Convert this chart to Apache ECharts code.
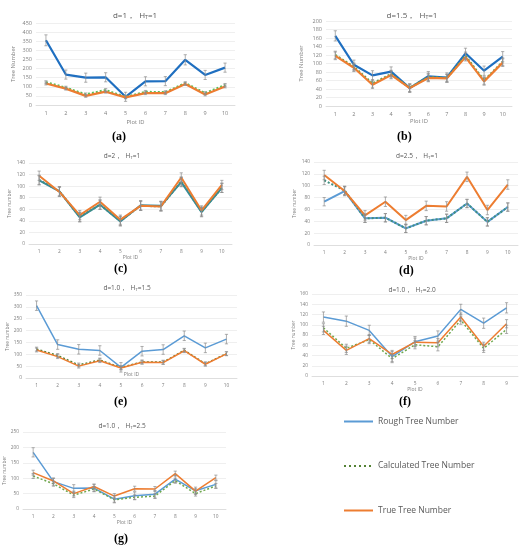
<!DOCTYPE html>
<html><head><meta charset="utf-8">
<script src="https://cdn.jsdelivr.net/npm/echarts@6/dist/echarts.min.js"></script>
<style>html,body{margin:0;padding:0;background:#fff}#c{width:523px;height:550px}</style>
</head><body><div id="c"></div>
<script>
const plotIds10 = ['1','2','3','4','5','6','7','8','9','10'];
const plotIds9 = ['1','2','3','4','5','6','7','8','9'];
const legendNames = ['Rough Tree Number','Calculated Tree Number','True Tree Number'];

// (a) d=1, HT=1
const roughA = [355,167,150,152,45,130,131,248,165,205];
const calcA  = [125,95,58,82,44,72,70,120,65,110];
const trueA  = [118,90,50,73,42,65,65,115,58,102];
const errRoughA = [30,25,25,25,25,25,25,28,25,25];
const errCalcA  = [8,8,8,8,8,8,8,8,8,8];
const errTrueA  = [8,8,8,8,8,8,8,8,8,8];
// (b) d=1.5, HT=1
const roughB = [165,97,72,81,42,70,67,124,83,116];
const calcB  = [120,92,53,75,43,68,66,118,60,104];
const trueB  = [118,90,50,73,42,66,65,115,58,102];
const errRoughB = [12,11,11,11,10,11,11,12,11,12];
const errCalcB  = [9,9,9,9,9,9,9,9,9,9];
const errTrueB  = [9,9,9,9,9,9,9,9,9,9];
// (c) d=2, HT=1
const roughC = [110,91,46,68,39,67,66,107,55,97];
const calcC  = [111,91,47,68,40,66,65,108,56,97];
const trueC  = [118,90,50,73,42,66,65,115,58,102];
const errRoughC = [8,8,8,8,8,8,8,8,8,8];
const errCalcC  = [8,8,8,8,8,8,8,8,8,8];
const errTrueC  = [8,8,8,8,8,8,8,8,8,8];
// (d) d=2.5, HT=1
const roughD = [73,91,45,46,28,41,45,70,39,64];
const calcD  = [109,92,45,46,28,41,45,70,39,64];
const trueD  = [118,91,50,73,42,66,65,115,59,102];
const errRoughD = [7,7,7,7,7,7,7,7,7,7];
const errCalcD  = [7,7,7,7,7,7,7,7,7,7];
const errTrueD  = [8,8,8,8,8,8,8,8,8,8];
// (e) d=1.0, HT=1.5
const roughE = [305,141,121,116,45,113,120,178,127,164];
const calcE  = [122,95,55,76,44,68,67,117,60,103];
const trueE  = [118,90,50,73,42,66,65,115,58,102];
const errRoughE = [20,20,20,20,20,20,20,20,20,20];
const errCalcE  = [8,8,8,8,8,8,8,8,8,8];
const errTrueE  = [8,8,8,8,8,8,8,8,8,8];
// (f) d=1.0, HT=2.0
const roughF = [115,107,89,38,67,78,130,103,133];
const calcF  = [94,54,71,34,61,57,109,54,91];
const trueF  = [89,50,73,42,66,65,115,58,102];
const errRoughF = [10,10,10,10,10,10,10,10,10];
const errCalcF  = [8,8,8,8,8,8,8,8,8];
const errTrueF  = [8,8,8,8,8,8,8,8,8];
// (g) d=1.0, HT=2.5
const roughG = [184,89,67,68,32,43,48,97,59,80];
const calcG  = [107,82,45,65,30,38,42,92,50,75];
const trueG  = [118,91,50,73,42,66,65,115,58,102];
const errRoughG = [15,12,12,12,12,12,12,12,12,12];
const errCalcG  = [8,8,8,8,8,8,8,8,8,8];
const errTrueG  = [8,8,8,8,8,8,8,8,8,8];

const panels = [
  {cats:plotIds10, rough:roughA, calc:calcA, tru:trueA, eR:errRoughA, eC:errCalcA, eT:errTrueA,
   max:450, step:50, grid:{left:36,top:23,width:199,height:82}, title:['d=1，  H','T','=1'], tx:130, ty:6, tfs:8,
   yname:'Tree Number', ygap:20, xgap:14, blue:'#1f6fc0', green:'#59c159', lw:2.2, lab:'(a)', lx:120, ly:138, big:true},
  {cats:plotIds10, rough:roughB, calc:calcB, tru:trueB, eR:errRoughB, eC:errCalcB, eT:errTrueB,
   max:200, step:20, grid:{left:326,top:21,width:186,height:85}, title:['d=1.5，  H','T','=1'], tx:407, ty:6, tfs:8,
   yname:'Tree Number', ygap:22, xgap:12, blue:'#1f6fc0', green:'#59a84a', lw:2.2, lab:'(b)', lx:405, ly:138, big:true},
  {cats:plotIds10, rough:roughC, calc:calcC, tru:trueC, eR:errRoughC, eC:errCalcC, eT:errTrueC,
   max:140, step:20, grid:{left:29,top:163,width:203,height:81}, title:['d=2，  H','T','=1'], tx:117, ty:148, tfs:6.5,
   yname:'Tree number', ygap:17, xgap:10, blue:'#3a8a9e', green:'#3f8f7f', lw:2, lab:'(c)', lx:122, ly:270},
  {cats:plotIds10, rough:roughD, calc:calcD, tru:trueD, eR:errRoughD, eC:errCalcD, eT:errTrueD,
   max:140, step:20, grid:{left:314,top:162,width:204,height:83}, title:['d=2.5，  H','T','=1'], tx:412, ty:148, tfs:6.5,
   yname:'Tree number', ygap:17, xgap:10, blue:'#5b9bd5', green:'#3f8f7f', lw:2, lab:'(d)', lx:407, ly:272},
  {cats:plotIds10, rough:roughE, calc:calcE, tru:trueE, eR:errRoughE, eC:errCalcE, eT:errTrueE,
   max:350, step:50, grid:{left:26,top:295,width:211,height:83}, title:['d=1.0，  H','T','=1.5'], tx:122, ty:280, tfs:6.5,
   yname:'Tree number', ygap:15, xgap:-6, blue:'#5b9bd5', green:'#548235', lw:1.5, lab:'(e)', lx:122, ly:403},
  {cats:plotIds9, rough:roughF, calc:calcF, tru:trueF, eR:errRoughF, eC:errCalcF, eT:errTrueF,
   max:160, step:20, grid:{left:312,top:294,width:206,height:82}, title:['d=1.0，  H','T','=2.0'], tx:407, ty:282, tfs:6.5,
   yname:'Tree number', ygap:12, xgap:10, blue:'#5b9bd5', green:'#6fa84f', lw:1.5, lab:'(f)', lx:407, ly:403},
  {cats:plotIds10, rough:roughG, calc:calcG, tru:trueG, eR:errRoughG, eC:errCalcG, eT:errTrueG,
   max:250, step:50, grid:{left:23,top:432,width:203,height:77}, title:['d=1.0，  H','T','=2.5'], tx:117, ty:418, tfs:6.5,
   yname:'Tree number', ygap:16, xgap:9, blue:'#5b9bd5', green:'#6fa84f', lw:1.5, lab:'(g)', lx:122, ly:540}
];

function errRender(params, api) {
  const x = api.value(0), v = api.value(1), e = api.value(2);
  const t = api.coord([x, v + e]), b = api.coord([x, v - e]);
  const hw = 1.6;
  const st = {stroke:'#8c8c8c', lineWidth:0.7};
  return {type:'group', children:[
    {type:'line', shape:{x1:t[0],y1:t[1],x2:b[0],y2:b[1]}, style:st},
    {type:'line', shape:{x1:t[0]-hw,y1:t[1],x2:t[0]+hw,y2:t[1]}, style:st},
    {type:'line', shape:{x1:b[0]-hw,y1:b[1],x2:b[0]+hw,y2:b[1]}, style:st}
  ]};
}

const grids=[], xAxes=[], yAxes=[], series=[], titles=[], graphics=[];
const axisFont = 'Open Sans, Liberation Sans, sans-serif';
panels.forEach((p, i) => {
  grids.push(Object.assign({containLabel:false}, p.grid));
  xAxes.push({type:'category', gridIndex:i, data:p.cats, boundaryGap:true,
    axisLine:{lineStyle:{color:'#d9d9d9', width:0.8}}, axisTick:{show:false},
    axisLabel:{fontSize:p.big?5.5:4.8, color:'#7f7f7f', margin:5, fontFamily:axisFont},
    name:'Plot ID', nameLocation:'middle', nameGap:p.xgap,
    nameTextStyle:{fontSize:p.big?5.8:5, color:'#7f7f7f', fontFamily:axisFont}});
  yAxes.push({type:'value', gridIndex:i, min:0, max:p.max, interval:p.step,
    axisLine:{show:false}, axisTick:{show:false},
    splitLine:{lineStyle:{color:'#e8e8e8', width:0.7}},
    axisLabel:{fontSize:p.big?5.5:4.8, color:'#7f7f7f', margin:4, fontFamily:axisFont},
    name:p.yname, nameLocation:'middle', nameGap:p.ygap, nameRotate:90,
    nameTextStyle:{fontSize:p.big?5.8:4.8, color:'#7f7f7f', fontFamily:axisFont}});
  titles.push({text:p.title[0]+'{s|'+p.title[1]+'}'+p.title[2], left:p.tx, top:p.ty, textAlign:'center',
    textStyle:{fontSize:p.tfs, color:'#595959', fontWeight:'normal', fontFamily:axisFont,
      rich:{s:{fontSize:p.tfs*0.65, color:'#595959', padding:[p.tfs*0.5,0,0,0], fontFamily:axisFont}}}});
  const common = {xAxisIndex:i, yAxisIndex:i, type:'line', symbol:'none', silent:true, animation:false};
  series.push(Object.assign({name:legendNames[0], data:p.rough, lineStyle:{color:p.blue, width:p.lw}, itemStyle:{color:p.blue}, z:2}, common));
  series.push(Object.assign({name:legendNames[1], data:p.calc, lineStyle:{color:p.green, width:p.lw, type:[2,2]}, itemStyle:{color:p.green}, z:3}, common));
  series.push(Object.assign({name:legendNames[2], data:p.tru, lineStyle:{color:'#ed7d31', width:p.lw}, itemStyle:{color:'#ed7d31'}, z:4}, common));
  [[p.rough,p.eR],[p.calc,p.eC],[p.tru,p.eT]].forEach(([vals, errs]) => {
    series.push({type:'custom', xAxisIndex:i, yAxisIndex:i, renderItem:errRender, silent:true, animation:false, z:5,
      data: vals.map((v, k) => [k, v, errs[k]])});
  });
  graphics.push({type:'text', left:p.lx - 8, top:p.ly - 7,
    style:{text:p.lab, fontSize:12, fontWeight:'bold', fontFamily:'Liberation Serif, DejaVu Serif, serif', fill:'#000'}});
});

const chart = echarts.init(document.getElementById('c'), null, {renderer:'canvas'});
chart.setOption({
  animation:false,
  title:titles,
  grid:grids, xAxis:xAxes, yAxis:yAxes, series:series,
  graphic:graphics,
  legend:{orient:'vertical', left:343, top:417, padding:0, itemWidth:29, itemHeight:10, itemGap:35.5,
    textStyle:{fontSize:8.5, color:'#595959', fontFamily:'Open Sans, Liberation Sans, sans-serif'},
    data:[
      {name:legendNames[0], lineStyle:{color:'#5b9bd5', width:2}, itemStyle:{color:'#5b9bd5', opacity:0}},
      {name:legendNames[1], lineStyle:{color:'#548235', width:2, type:[2,3]}, itemStyle:{color:'#548235', opacity:0}},
      {name:legendNames[2], lineStyle:{color:'#ed7d31', width:2}, itemStyle:{color:'#ed7d31', opacity:0}}
    ]}
});
</script></body></html>
